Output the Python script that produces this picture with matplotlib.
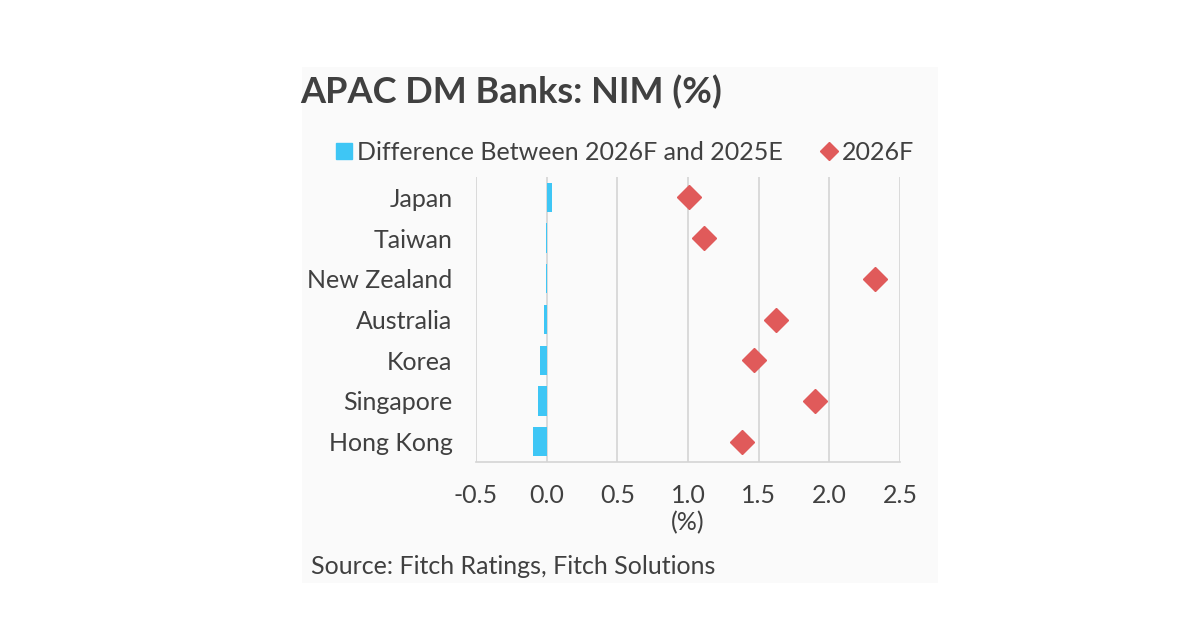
import matplotlib.pyplot as plt
from matplotlib.patches import Rectangle
from matplotlib.lines import Line2D

# === DATA ===
countries = ['Japan', 'Taiwan', 'New Zealand', 'Australia', 'Korea', 'Singapore', 'Hong Kong']
diff_26_25 = [0.04, -0.005, -0.005, -0.02, -0.05, -0.06, -0.095]
nim_2026f = [1.01, 1.11, 2.32, 1.62, 1.47, 1.90, 1.38]
x_ticks = [-0.5, 0.0, 0.5, 1.0, 1.5, 2.0, 2.5]

# === STYLE ===
plt.rcParams['font.family'] = ['Lato', 'DejaVu Sans']
text_col = '#404040'
bar_col = '#3EC6F5'
dia_col = '#E05A5A'
grid_col = '#D4D4D4'

fig = plt.figure(figsize=(12, 6.3), dpi=100)
fig.patches.append(Rectangle((302 / 1200, 1 - 583 / 630), 636 / 1200, 516 / 630,
                             transform=fig.transFigure, facecolor='#FAFAFA',
                             edgecolor='none', zorder=-1))

ax = fig.add_axes([476 / 1200, 1 - 462 / 630, 424 / 1200, 285 / 630])
ax.set_facecolor('none')

y = list(range(len(countries)))
ax.barh(y, diff_26_25, height=0.72, color=bar_col, zorder=3)
ax.plot(nim_2026f, y, linestyle='none', marker='D', ms=12.5, color=dia_col, zorder=4)

ax.set_ylim(len(countries) - 0.5, -0.5)
ax.set_xlim(-0.5, 2.5)
ax.set_xticks(x_ticks)
ax.set_xticklabels([f'{v:.1f}' for v in x_ticks])
ax.set_yticks(y)
ax.set_yticklabels(countries)
ax.tick_params(axis='both', length=0, labelsize=18, labelcolor=text_col)
ax.tick_params(axis='y', pad=17)
ax.tick_params(axis='x', pad=15.5)
ax.grid(axis='x', color=grid_col, linewidth=1.2, zorder=0)
for s in ['top', 'right', 'left']:
    ax.spines[s].set_visible(False)
ax.spines['bottom'].set_color(grid_col)
ax.spines['bottom'].set_linewidth(1.2)
ax.set_xlabel('(%)', fontsize=18, color=text_col, labelpad=3)

# title, legend, source
fig.text(300 / 1200, 1 - 92 / 630, 'APAC DM Banks: NIM (%)', fontsize=26,
         fontweight='bold', color=text_col, va='center', ha='left')

handles = [Line2D([], [], linestyle='none', marker='s', ms=11, color=bar_col),
           Line2D([], [], linestyle='none', marker='D', ms=9, color=dia_col)]
fig.legend(handles, ['Difference Between 2026F and 2025E', '2026F'],
           loc='center', bbox_to_anchor=(626 / 1200, 1 - 152 / 630), ncol=2,
           frameon=False, fontsize=18, labelcolor=text_col, handlelength=0.5,
           handletextpad=0.25, columnspacing=1.6)

fig.text(311 / 1200, 1 - 567 / 630, 'Source: Fitch Ratings, Fitch Solutions',
         fontsize=18, color=text_col, va='center', ha='left')

fig.savefig('out.png', dpi=100)
